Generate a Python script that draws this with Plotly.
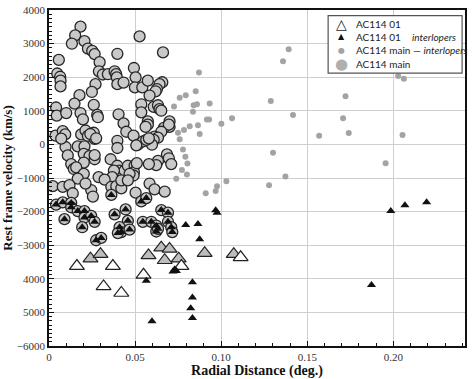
import plotly.graph_objects as go

# AC114 main members (gray circles)
main_x = [0.0183, 0.0152, 0.0133, 0.0206, 0.0226, 0.0251, 0.0265, 0.0057, 0.0294, 0.0397,
          0.0526, 0.0290, 0.0313, 0.0342, 0.0381, 0.0390, 0.0394, 0.0397, 0.0433, 0.0048,
          0.0065, 0.0067, 0.0067, 0.0493, 0.0503, 0.0499, 0.0542, 0.0574, 0.0270, 0.0249,
          0.0177, 0.0148, 0.0260, 0.0662, 0.0658, 0.0642, 0.0627, 0.0619, 0.0584, 0.0536,
          0.0608, 0.0633, 0.0642, 0.0652, 0.0041, 0.0045, 0.0100, 0.0183, 0.0197, 0.0280,
          0.0284, 0.0404, 0.0433, 0.0449, 0.0491, 0.0038, 0.0080, 0.0094, 0.0187, 0.0212,
          0.0226, 0.0260, 0.0265, 0.0397, 0.0516, 0.0545, 0.0536, 0.0574, 0.0700, 0.0574,
          0.0561, 0.0700, 0.0667, 0.0696, 0.0652, 0.0613, 0.0633, 0.0608, 0.0598, 0.0565,
          0.0507, 0.0397, 0.0096, 0.0109, 0.0167, 0.0206, 0.0202, 0.0235, 0.0265, 0.0265,
          0.0358, 0.0202, 0.0129, 0.0144, 0.0158, 0.0397, 0.0410, 0.0439, 0.0458, 0.0497,
          0.0493, 0.0377, 0.0367, 0.0202, 0.0167, 0.0288, 0.0323, 0.0685, 0.0696, 0.0710,
          0.0633, 0.0623, 0.0580, 0.0510, 0.0491, 0.0468, 0.0580, 0.0071, 0.0240, 0.0274,
          0.0022, 0.0080, 0.0119, 0.0138, 0.0245, 0.0255, 0.0362, 0.0391, 0.0420, 0.0503,
          0.0584, 0.0613, 0.0672, 0.0212, 0.0420, 0.0458,
          0.0362, 0.0536, 0.0565, 0.0041, 0.0080, 0.0129, 0.0129, 0.0167, 0.0206, 0.0206,
          0.0245, 0.0265, 0.0090, 0.0193, 0.0381, 0.0445, 0.0458, 0.0410, 0.0420, 0.0468,
          0.0400, 0.0545, 0.0594, 0.0623, 0.0623, 0.0633, 0.0652, 0.0691, 0.0691, 0.0710,
          0.0716, 0.0274, 0.0303]
main_y = [3505, 3245, 2997, 3072, 2852, 2783, 2688, 2514, 2447, 2697,
          3217, 2176, 2081, 2089, 2176, 2089, 1994, 1792, 1841, 2110,
          2014, 1898, 1725, 2274, 1994, 1696, 1696, 1898, 1792, 1561,
          1465, 1214, 1176, 2737, 1850, 1792, 1647, 1581, 1454, 1194,
          1118, 1165, 1049, 1003, 1098, 858, 933, 933, 743, 876,
          809, 896, 627, 376, 260, 260, 396, 298, 298, 413,
          251, 347, 165, 107, -9, 87, 954, 685, 685, 587,
          520, 520, 491, 587, 376, 231, 202, 136, -9, 136,
          -29, -107, -78, -327, -58, -58, -280, -347, -442, -318,
          -442, -540, -587, -731, -685, -636, -780, -780, -636, -636,
          -829, -780, -973, -876, -1020, -973, -1049, -298, -413, -587,
          -491, -616, -587, -560, -925, -876, 182, 170, 309, 182,
          -1243, -1262, -1214, -1454, -1358, -1552, -1262, -1243, -1310, -1436,
          -1165, -1338, -1407, -1165, -1069, -1069,
          -1503, -1696, -1598, -1792, -1725, -1743, -1870, -1985, -1985, -2176,
          -2128, -2303, -2225, -2465, -2081, -1936, -2274, -2465, -2610, -2534,
          -2640, -2303, -2303, -2419, -2592, -2514, -1956, -2032, -2303, -2465,
          -2610, -2852, -2783]

# AC114 main - interlopers (small gray dots)
mint_x = [0.0871, 0.0852, 0.0794, 0.0759, 0.0726, 0.0840, 0.0859, 0.0933, 0.0836, 0.0917,
          0.0930, 0.1001, 0.0865, 0.0817, 0.0784, 0.0749, 0.0759, 0.0875, 0.0778, 0.0792,
          0.0804, 0.0772, 0.0801, 0.0739, 0.1030, 0.0976, 0.0968, 0.0910, 0.1392, 0.1359,
          0.1288, 0.1722, 0.2028, 0.2061, 0.1063, 0.1417, 0.1708, 0.1569, 0.1741, 0.2053,
          0.1301, 0.1373, 0.1278, 0.1955]
mint_y = [2139, 1581, 1465, 1387, 1127, 1165, 1194, 1214, 974, 743,
          743, 616, 569, 540, 425, 347, 153, 309, -153, -367,
          -569, -760, -896, -1020, -1098, -1243, -1387, -1454, 2832, 2477,
          1292, 1436, 2032, 1956, 780, 876, 780, 260, 338, 280,
          -251, -954, -1214, -558]

# AC114 01 members (open triangles)
a01_x = [0.0162, 0.0371, 0.0317, 0.0420, 0.0549, 0.0769, 0.1113]
a01_y = [-3621, -3621, -4228, -4422, -3881, -3621, -3361]

# AC114 01 members overlapping main members (gray triangles)
a01m_x = [0.0241, 0.0299, 0.0652, 0.0700, 0.0578, 0.0672, 0.0753, 0.0904, 0.1073]
a01m_y = [-3401, -3266, -3072, -3112, -3303, -3448, -3401, -3237, -3266]

# AC114 01 interlopers (black triangles)
i01_x = [0.0794, 0.0865, 0.0875, 0.0730, 0.0740, 0.0720, 0.0565, 0.0833, 0.0833, 0.0823,
         0.0833, 0.0598, 0.0968, 0.0976, 0.1985, 0.2067, 0.2193, 0.1873,
         0.0362, 0.0536, 0.0565, 0.0041, 0.0080, 0.0129, 0.0129, 0.0167, 0.0206, 0.0206,
         0.0245, 0.0265, 0.0090, 0.0193, 0.0381, 0.0445, 0.0458, 0.0410, 0.0420, 0.0468,
         0.0400, 0.0545, 0.0594, 0.0623, 0.0623, 0.0633, 0.0652, 0.0691, 0.0691, 0.0710,
         0.0716, 0.0274, 0.0303]
i01_y = [-2399, -2370, -2824, -3719, -3766, -3786, -4055, -4104, -4558, -4875,
         -5164, -5260, -1957, -2032, -1985, -1812, -1725, -4182,
         -1503, -1696, -1598, -1792, -1725, -1743, -1870, -1985, -1985, -2176,
         -2128, -2303, -2225, -2465, -2081, -1936, -2274, -2465, -2610, -2534,
         -2640, -2303, -2303, -2419, -2592, -2514, -1956, -2032, -2303, -2465,
         -2610, -2852, -2783]

y_ticks = [4000, 3000, 2000, 1000, 0, -1000, -2000, -3000, -4000, -5000, -6000]
y_labels = ["4000", "3000", "2000", "1000", "0", "\u22121000", "\u22122000",
            "\u22123000", "4000", "5000", "\u22126000"]
x_ticks = [0, 0.05, 0.10, 0.15, 0.20]
x_labels = ["0", "0.05", "0.10", "0.15", "0.20"]

# legend entries
legend_labels = ["AC114 01", "AC114 01", "AC114 main \u2014 <i>interlopers</i>", "AC114 main"]
legend_note = "<i>interlopers</i>"

fig = go.Figure()
fig.add_trace(go.Scatter(
    x=main_x, y=main_y, mode="markers", name="AC114 main", showlegend=False,
    marker=dict(symbol="circle", size=11, color="#c9c9c9",
                line=dict(color="#262626", width=1.3))))
fig.add_trace(go.Scatter(
    x=mint_x, y=mint_y, mode="markers", name="AC114 main \u2014 interlopers", showlegend=False,
    marker=dict(symbol="circle", size=6, color="#a3a3a3")))
fig.add_trace(go.Scatter(
    x=a01m_x, y=a01m_y, mode="markers", showlegend=False,
    marker=dict(symbol="triangle-up", size=13, color="#bdbdbd",
                line=dict(color="#222222", width=1.2))))
fig.add_trace(go.Scatter(
    x=a01_x, y=a01_y, mode="markers", name="AC114 01", showlegend=False,
    marker=dict(symbol="triangle-up", size=13, color="white",
                line=dict(color="#222222", width=1.2))))
fig.add_trace(go.Scatter(
    x=i01_x, y=i01_y, mode="markers", name="AC114 01 interlopers", showlegend=False,
    marker=dict(symbol="triangle-up", size=8, color="#111111")))

# ---- hand-made legend box (text + glyphs) ----
fig.add_shape(type="rect", xref="paper", yref="paper", x0=0.671, x1=0.993, y0=0.812, y1=0.983,
              fillcolor="white", line=dict(color="#555555", width=1.2), layer="above")
row_y = [0.958, 0.921, 0.880, 0.838]
glyphs = [("\u25b3", 14, "#222222"), ("\u25b2", 8, "#111111"),
          ("\u25cf", 8, "#a3a3a3"), ("\u25cf", 15, "#b0b0b0")]
for (g, gs, gc), lab, ry in zip(glyphs, legend_labels, row_y):
    fig.add_annotation(xref="paper", yref="paper", x=0.703, y=ry, text=g, showarrow=False,
                       xanchor="center", yanchor="middle",
                       font=dict(family="DejaVu Sans", size=gs, color=gc))
    fig.add_annotation(xref="paper", yref="paper", x=0.733, y=ry, text=lab, showarrow=False,
                       xanchor="left", yanchor="middle",
                       font=dict(family="Lato", size=10, color="#222222"))
fig.add_annotation(xref="paper", yref="paper", x=0.868, y=row_y[1], text=legend_note,
                   showarrow=False, xanchor="left", yanchor="middle",
                   font=dict(family="Lato", size=10, color="#222222"))

fig.update_layout(
    width=474, height=379,
    margin=dict(l=49, r=9, t=4, b=29),
    paper_bgcolor="white", plot_bgcolor="white",
    font=dict(family="Liberation Serif", color="#222222"),
    showlegend=False,
)
fig.update_xaxes(
    range=[0, 0.2416], tickvals=x_ticks, ticktext=x_labels,
    showgrid=True, gridcolor="#cfcfcf", gridwidth=1, zeroline=False,
    showline=True, linecolor="#111111", linewidth=1.5, mirror=True,
    ticks="inside", ticklen=5, tickcolor="#111111",
    minor=dict(dtick=0.01, ticks="inside", ticklen=3, tickcolor="#111111", showgrid=False),
    tickfont=dict(family="Liberation Serif", size=11, color="#333333"),
    ticklabeloverflow="allow",
    title=dict(text="<b>Radial Distance (deg.)</b>", standoff=2,
               font=dict(family="Liberation Serif", size=14, color="#111111")),
)
fig.update_yaxes(
    range=[-6000, 4000], tickvals=y_ticks, ticktext=y_labels,
    showgrid=True, gridcolor="#cfcfcf", gridwidth=1, zeroline=False,
    showline=True, linecolor="#111111", linewidth=1.5, mirror=True,
    ticks="inside", ticklen=5, tickcolor="#111111",
    minor=dict(dtick=125, tick0=0, ticks="inside", ticklen=3, tickcolor="#111111", showgrid=False),
    tickfont=dict(family="Liberation Serif", size=11, color="#333333"),
    ticklabeloverflow="allow",
    title=dict(text="<b>Rest frame velocity (km/s)</b>", standoff=1,
               font=dict(family="Liberation Serif", size=13, color="#111111")),
)

fig.write_html("out.html", config={"displayModeBar": False},
               post_script="document.body.style.margin='0px';")
